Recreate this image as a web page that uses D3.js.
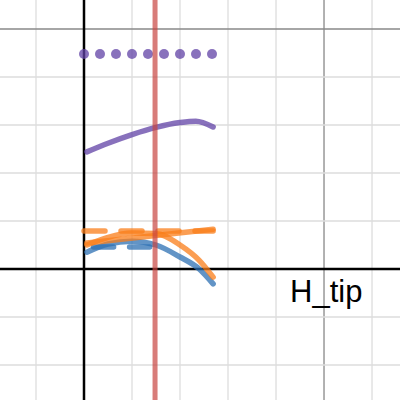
<!DOCTYPE html><html><head><script src="https://cdn.jsdelivr.net/npm/d3@7"></script>
<style>body{margin:0}svg{display:block}</style></head><body><script>
const dotsX=[0,0.333,0.667,1,1.333,1.667,2,2.333,2.667];
const dotsY=4.48;
const purpleCurve=[[0.06,2.44],[0.5,2.62],[1,2.8],[1.5,2.95],[2,3.05],[2.33,3.08],[2.69,2.96]];
const orangeCurve=[[0.06,0.5],[0.5,0.66],[1,0.75],[1.5,0.74],[2,0.5],[2.4,0.18],[2.69,-0.17]];
const orangeLine=[[0.06,0.54],[2.69,0.83]];
const orangeDash=[[0,0.79],[2.69,0.79]];
const blueCurve=[[0.06,0.35],[0.5,0.52],[1,0.58],[1.5,0.5],[2,0.25],[2.4,0],[2.69,-0.31]];
const blueDash=[[0.2,0.46],[1.45,0.46]];
const redX=1.48;
const W=400,H=400;
const x=d3.scaleLinear().domain([-1.75,6.583]).range([0,W]);
const y=d3.scaleLinear().domain([-2.729,5.604]).range([H,0]);
const svg=d3.select("body").append("svg").attr("width",W).attr("height",H);
svg.append("rect").attr("width",W).attr("height",H).attr("fill","#fff");
d3.range(-1,7).forEach(v=>svg.append("line").attr("x1",x(v)).attr("x2",x(v)).attr("y1",0).attr("y2",H).attr("stroke",v%5===0?"#888":"#ddd").attr("stroke-width",1.3));
d3.range(-2,6).forEach(v=>svg.append("line").attr("y1",y(v)).attr("y2",y(v)).attr("x1",0).attr("x2",W).attr("stroke",v%5===0?"#888":"#ddd").attr("stroke-width",1.3));
svg.append("line").attr("x1",x(0)).attr("x2",x(0)).attr("y1",0).attr("y2",H).attr("stroke","#000").attr("stroke-width",2.5);
svg.append("line").attr("y1",y(0)).attr("y2",y(0)).attr("x1",0).attr("x2",W).attr("stroke","#000").attr("stroke-width",2.5);
const line=d3.line().x(d=>x(d[0])).y(d=>y(d[1])).curve(d3.curveMonotoneX);
function path(data,color,dash){svg.append("path").attr("d",line(data)).attr("fill","none").attr("stroke",color).attr("stroke-width",5.5).attr("stroke-linecap","round").attr("stroke-opacity",0.75).attr("stroke-dasharray",dash||null);}
path(blueDash,"#2d70b3","20 16");
path(blueCurve,"#2d70b3");
path(orangeDash,"#fa7e19","21 16");
path(orangeLine,"#fa7e19");
path(orangeCurve,"#fa7e19");
path(purpleCurve,"#6042a6");
svg.selectAll("circle").data(dotsX).enter().append("circle").attr("cx",d=>x(d)).attr("cy",y(dotsY)).attr("r",5).attr("fill","#6042a6").attr("fill-opacity",0.75);
svg.append("line").attr("x1",x(redX)).attr("x2",x(redX)).attr("y1",0).attr("y2",H).attr("stroke","#c74440").attr("stroke-width",5).attr("stroke-opacity",0.7);
svg.append("text").attr("x",290).attr("y",302).attr("font-family","Arial, Liberation Sans").attr("font-size",31).text("H_tip");
</script></body></html>
